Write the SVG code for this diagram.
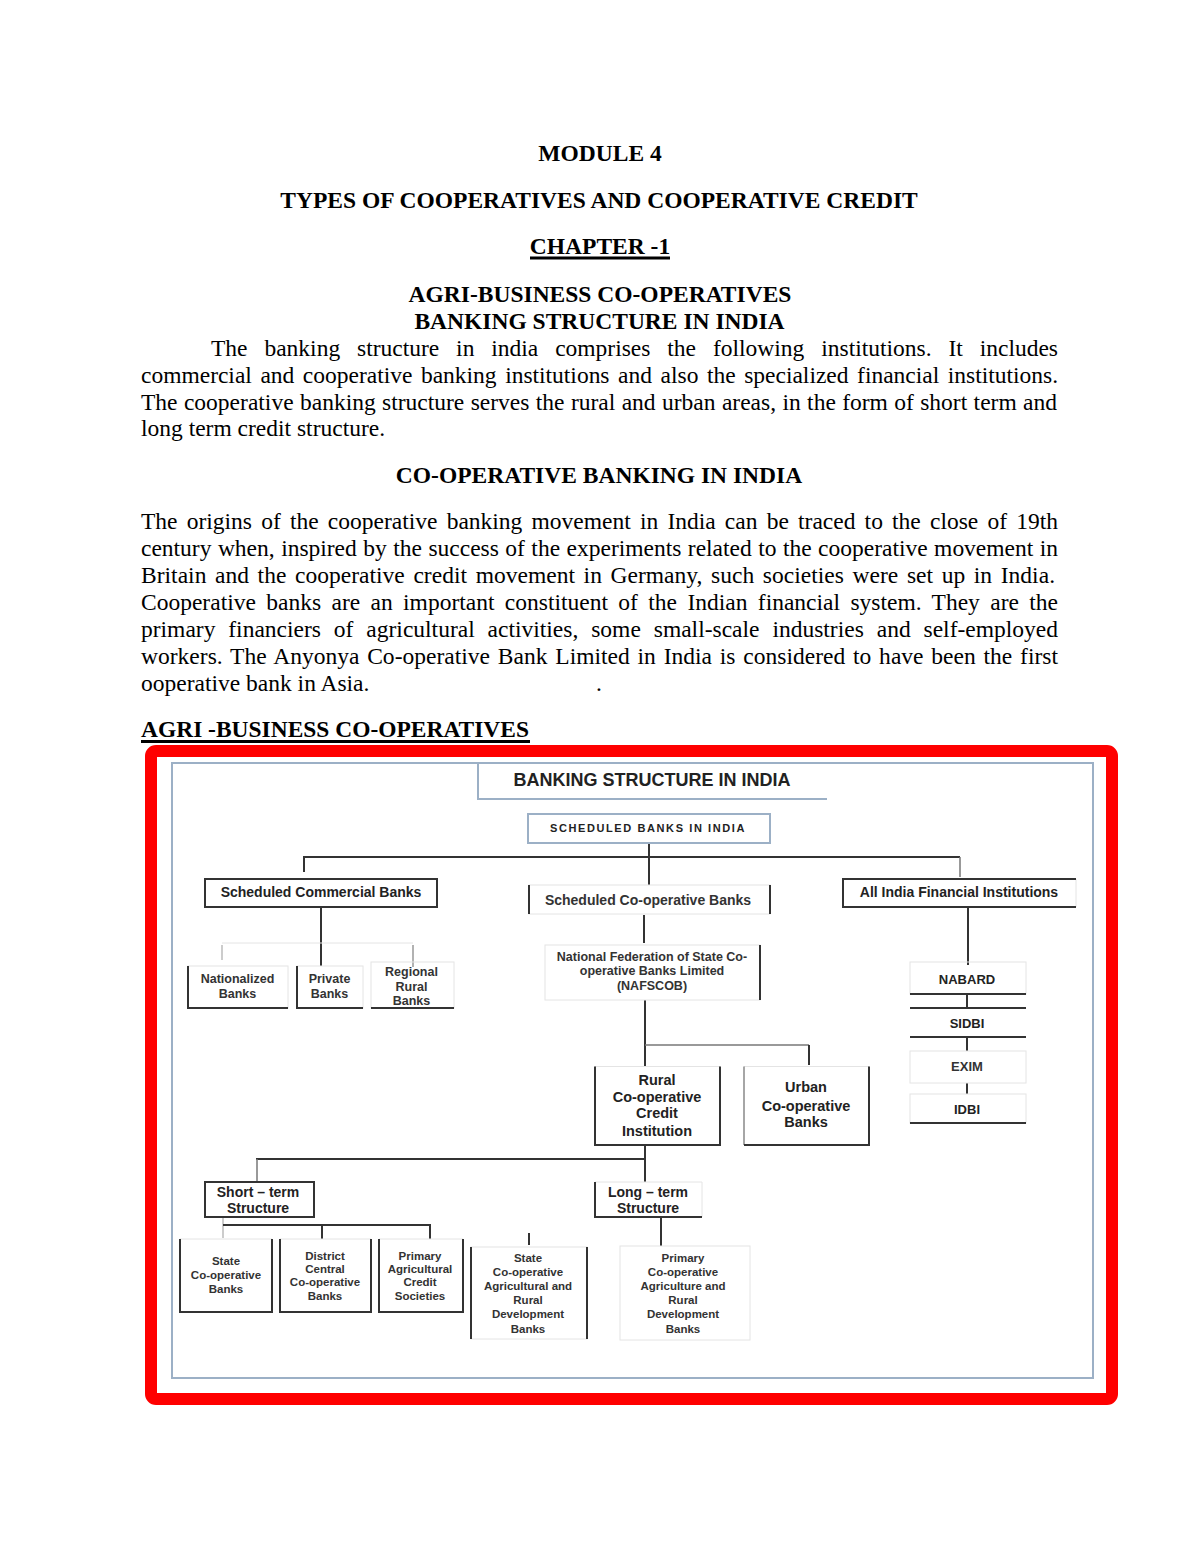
<svg xmlns="http://www.w3.org/2000/svg" width="1200" height="1553" viewBox="0 0 1200 1553">
<style>
.doc{font-family:"Liberation Serif","Times New Roman",serif;font-size:23.5px;fill:#000}
.hd{font-weight:bold;text-anchor:middle}
.lb{font-family:"Liberation Sans",Arial,sans-serif;font-weight:bold;fill:#222;text-anchor:middle}
.sm{fill:#333}
.f18{font-size:18px}
.f14{font-size:14px}
.f145{font-size:14.5px}
.f13{font-size:13px}
.f125{font-size:12.5px}
.f115{font-size:11.5px}
.f11{font-size:11px}
.ln{stroke:#333;stroke-width:2;fill:none}
.lt{stroke:#777;stroke-width:1.5;fill:none}
.fa{stroke:#e4e4e4;stroke-width:1;fill:none}
.bg{stroke:#9cb0c6;stroke-width:2;fill:none}
.ul{fill:#000}
</style>
<rect width="1200" height="1553" fill="#fff"/>

<g id="document-text" class="doc">
  <text class="hd" x="600" y="160.5">MODULE 4</text>
  <text class="hd" x="599" y="207.5">TYPES OF COOPERATIVES AND COOPERATIVE CREDIT</text>
  <text class="hd" x="600" y="254">CHAPTER -1</text>
  <rect class="ul" x="530" y="256.5" width="140" height="3"/>
  <text class="hd" x="600" y="301.5">AGRI-BUSINESS CO-OPERATIVES</text>
  <text class="hd" x="599.5" y="328.5">BANKING STRUCTURE IN INDIA</text>
  <text x="211" y="355.5" word-spacing="11" textLength="847" lengthAdjust="spacing">The banking structure in india comprises the following institutions. It includes</text>
  <text x="141" y="382.5" word-spacing="2.7" textLength="917" lengthAdjust="spacing">commercial and cooperative banking institutions and also the specialized financial institutions.</text>
  <text x="141" y="409.5" word-spacing="0.5" textLength="916" lengthAdjust="spacing">The cooperative banking structure serves the rural and urban areas, in the form of short term and</text>
  <text x="141" y="436">long term credit structure.</text>
  <text class="hd" x="599" y="482.5">CO-OPERATIVE BANKING IN INDIA</text>
  <text x="141" y="529" word-spacing="3.3" textLength="917" lengthAdjust="spacing">The origins of the cooperative banking movement in India can be traced to the close of 19th</text>
  <text x="141" y="556" word-spacing="0.6" textLength="917" lengthAdjust="spacing">century when, inspired by the success of the experiments related to the cooperative movement in</text>
  <text x="141" y="583" word-spacing="2.7" textLength="914" lengthAdjust="spacing">Britain and the cooperative credit movement in Germany, such societies were set up in India.</text>
  <text x="141" y="610" word-spacing="4.5" textLength="917" lengthAdjust="spacing">Cooperative banks are an important constituent of the Indian financial system. They are the</text>
  <text x="141" y="637" word-spacing="7" textLength="917" lengthAdjust="spacing">primary financiers of agricultural activities, some small-scale industries and self-employed</text>
  <text x="141" y="664" word-spacing="1.9" textLength="917" lengthAdjust="spacing">workers. The Anyonya Co-operative Bank Limited in India is considered to have been the first</text>
  <text x="141" y="691">ooperative bank in Asia.</text>
  <text x="596" y="691">.</text>
  <text x="141" y="737" font-weight="bold" textLength="388" lengthAdjust="spacingAndGlyphs">AGRI -BUSINESS CO-OPERATIVES</text>
  <rect class="ul" x="141" y="740" width="389" height="3"/>
</g>

<g id="frame">
  <rect x="151" y="751" width="961" height="648" rx="5" fill="none" stroke="#ff0000" stroke-width="12"/>
  <rect x="172" y="763" width="921" height="615" class="bg"/>
</g>

<g id="connectors">
  <line class="ln" x1="649" y1="843" x2="649" y2="885"/>
  <line class="ln" x1="304" y1="857" x2="960" y2="857"/>
  <line class="ln" x1="304" y1="856" x2="304" y2="872"/>
  <line class="lt" x1="960" y1="857" x2="960" y2="877"/>
  <line class="ln" x1="321" y1="907" x2="321" y2="966"/>
  <line class="fa" x1="222" y1="943" x2="413" y2="943"/>
  <line stroke="#bbb" stroke-width="1.5" x1="222" y1="945" x2="222" y2="960"/>
  <line stroke="#999" stroke-width="1.5" x1="413" y1="945" x2="413" y2="967"/>
  <line class="ln" x1="644" y1="915" x2="644" y2="943"/>
  <line class="ln" x1="645" y1="1000" x2="645" y2="1066"/>
  <line class="lt" x1="645" y1="1045" x2="809" y2="1045"/>
  <line class="ln" x1="809" y1="1045" x2="809" y2="1065"/>
  <line class="ln" x1="645" y1="1145" x2="645" y2="1182"/>
  <line class="ln" x1="256" y1="1159" x2="645" y2="1159"/>
  <line class="lt" x1="257" y1="1159" x2="257" y2="1182"/>
  <line stroke="#bbb" stroke-width="1.5" x1="223" y1="1217" x2="223" y2="1238"/>
  <line class="ln" x1="223" y1="1225" x2="430" y2="1225"/>
  <line class="ln" x1="322" y1="1225" x2="322" y2="1239"/>
  <line class="ln" x1="430" y1="1224" x2="430" y2="1239"/>
  <line class="ln" x1="661" y1="1217" x2="661" y2="1246"/>
  <line class="ln" x1="529" y1="1233" x2="529" y2="1245"/>
  <line class="ln" x1="968" y1="907" x2="968" y2="965"/>
  <line class="ln" x1="967" y1="994" x2="967" y2="1008"/>
  <line class="ln" x1="967" y1="1037" x2="967" y2="1051"/>
  <line class="ln" x1="967" y1="1083" x2="967" y2="1094"/>
</g>

<g id="node-title">
  <line class="bg" x1="478" y1="763" x2="478" y2="799"/>
  <line class="bg" x1="477" y1="799" x2="827" y2="799"/>
  <text class="lb f18" x="652" y="786">BANKING STRUCTURE IN INDIA</text>
</g>

<g id="node-scheduled-banks">
  <rect class="bg" x="528" y="814" width="242" height="29"/>
  <text class="lb f11" x="648" y="832" letter-spacing="1.6">SCHEDULED BANKS IN INDIA</text>
</g>

<g id="node-commercial">
  <rect class="ln" x="205" y="879" width="232" height="28"/>
  <text class="lb f14" x="321" y="897">Scheduled Commercial Banks</text>
</g>

<g id="node-cooperative">
  <rect class="fa" x="529" y="885" width="241" height="29"/>
  <line class="ln" x1="529" y1="885" x2="529" y2="914"/>
  <line class="ln" x1="770" y1="885" x2="770" y2="914"/>
  <text class="lb f14 sm" x="648" y="905">Scheduled Co-operative Banks</text>
</g>

<g id="node-aifi">
  <line class="fa" x1="1076" y1="879" x2="1076" y2="907"/>
  <polyline class="ln" points="1076,879 843,879 843,907 1076,907"/>
  <text class="lb f14" x="959" y="897">All India Financial Institutions</text>
</g>

<g id="node-nationalized">
  <rect class="fa" x="188" y="966" width="100" height="42"/>
  <polyline class="ln" points="188,966 188,1008 288,1008"/>
  <text class="lb f125 sm" x="237.5" y="983">Nationalized</text>
  <text class="lb f125 sm" x="237.5" y="998">Banks</text>
</g>

<g id="node-private">
  <rect class="fa" x="297" y="966" width="66" height="42"/>
  <polyline class="ln" points="297,966 297,1008 363,1008"/>
  <text class="lb f125 sm" x="329.5" y="983">Private</text>
  <text class="lb f125 sm" x="329.5" y="998">Banks</text>
</g>

<g id="node-regional">
  <rect class="fa" x="371" y="962" width="83" height="46"/>
  <line class="ln" x1="371" y1="1008" x2="454" y2="1008"/>
  <text class="lb f125 sm" x="411.5" y="976">Regional</text>
  <text class="lb f125 sm" x="411.5" y="990.5">Rural</text>
  <text class="lb f125 sm" x="411.5" y="1005">Banks</text>
</g>

<g id="node-nafscob">
  <rect class="fa" x="545" y="945" width="215" height="55"/>
  <line class="ln" x1="760" y1="945" x2="760" y2="1000"/>
  <text class="lb f125 sm" x="652" y="960.5">National Federation of State Co-</text>
  <text class="lb f125 sm" x="652" y="975">operative Banks Limited</text>
  <text class="lb f125 sm" x="652" y="990">(NAFSCOB)</text>
</g>

<g id="node-nabard">
  <rect class="fa" x="910" y="962" width="116" height="32"/>
  <line class="ln" x1="910" y1="994" x2="1026" y2="994"/>
  <text class="lb f13" x="967" y="983.5">NABARD</text>
</g>

<g id="node-sidbi">
  <line class="ln" x1="910" y1="1008" x2="1026" y2="1008"/>
  <line class="ln" x1="910" y1="1037" x2="1026" y2="1037"/>
  <text class="lb f13" x="967" y="1027.5">SIDBI</text>
</g>

<g id="node-exim">
  <rect class="fa" x="910" y="1051" width="116" height="32"/>
  <text class="lb f13 sm" x="967" y="1071">EXIM</text>
</g>

<g id="node-idbi">
  <rect class="fa" x="910" y="1094" width="116" height="29"/>
  <line class="ln" x1="910" y1="1123" x2="1026" y2="1123"/>
  <text class="lb f13" x="967" y="1113.5">IDBI</text>
</g>

<g id="node-rural">
  <line class="fa" x1="595" y1="1066.5" x2="720" y2="1066.5"/>
  <polyline class="ln" points="595,1066.5 595,1145 720,1145 720,1066.5"/>
  <text class="lb f145" x="657" y="1084.5">Rural</text>
  <text class="lb f145" x="657" y="1101.5">Co-operative</text>
  <text class="lb f145" x="657" y="1117.5">Credit</text>
  <text class="lb f145" x="657" y="1135.5">Institution</text>
</g>

<g id="node-urban">
  <line class="fa" x1="744" y1="1066.5" x2="869" y2="1066.5"/>
  <line stroke="#888" stroke-width="1.5" x1="744" y1="1066.5" x2="744" y2="1145"/>
  <polyline class="ln" points="744,1145 869,1145 869,1066.5"/>
  <text class="lb f145" x="806" y="1092">Urban</text>
  <text class="lb f145" x="806" y="1110.5">Co-operative</text>
  <text class="lb f145" x="806" y="1127">Banks</text>
</g>

<g id="node-short-term">
  <rect class="ln" x="205" y="1182" width="109" height="35"/>
  <text class="lb f14" x="258" y="1196.5">Short – term</text>
  <text class="lb f14" x="258" y="1212.5">Structure</text>
</g>

<g id="node-long-term">
  <polyline class="fa" points="595,1182 702,1182 702,1217"/>
  <polyline class="ln" points="595,1182 595,1217 702,1217"/>
  <text class="lb f14" x="648" y="1196.5">Long – term</text>
  <text class="lb f14" x="648" y="1212.5">Structure</text>
</g>

<g id="node-state-coop-banks">
  <line class="fa" x1="180" y1="1239" x2="272" y2="1239"/>
  <polyline class="ln" points="180,1239 180,1312 272,1312 272,1239"/>
  <text class="lb f115 sm" x="226" y="1265">State</text>
  <text class="lb f115 sm" x="226" y="1279">Co-operative</text>
  <text class="lb f115 sm" x="226" y="1293">Banks</text>
</g>

<g id="node-district-central">
  <line class="fa" x1="280" y1="1239" x2="371" y2="1239"/>
  <polyline class="ln" points="280,1239 280,1312 371,1312 371,1239"/>
  <text class="lb f115 sm" x="325" y="1259.5">District</text>
  <text class="lb f115 sm" x="325" y="1272.5">Central</text>
  <text class="lb f115 sm" x="325" y="1286">Co-operative</text>
  <text class="lb f115 sm" x="325" y="1299.5">Banks</text>
</g>

<g id="node-primary-agri-credit">
  <line class="fa" x1="379" y1="1239" x2="463" y2="1239"/>
  <polyline class="ln" points="379,1239 379,1312 463,1312 463,1239"/>
  <text class="lb f115 sm" x="420" y="1259.5">Primary</text>
  <text class="lb f115 sm" x="420" y="1272.5">Agricultural</text>
  <text class="lb f115 sm" x="420" y="1286">Credit</text>
  <text class="lb f115 sm" x="420" y="1299.5">Societies</text>
</g>

<g id="node-state-card">
  <rect class="fa" x="471" y="1247" width="116" height="92"/>
  <line class="ln" x1="471" y1="1247" x2="471" y2="1339"/>
  <line class="ln" x1="587" y1="1247" x2="587" y2="1339"/>
  <text class="lb f115 sm" x="528" y="1261.5">State</text>
  <text class="lb f115 sm" x="528" y="1275.7">Co-operative</text>
  <text class="lb f115 sm" x="528" y="1290">Agricultural and</text>
  <text class="lb f115 sm" x="528" y="1304">Rural</text>
  <text class="lb f115 sm" x="528" y="1318.3">Development</text>
  <text class="lb f115 sm" x="528" y="1332.5">Banks</text>
</g>

<g id="node-primary-card">
  <rect class="fa" x="620" y="1246" width="130" height="94"/>
  <text class="lb f115 sm" x="683" y="1261.5">Primary</text>
  <text class="lb f115 sm" x="683" y="1275.7">Co-operative</text>
  <text class="lb f115 sm" x="683" y="1290">Agriculture and</text>
  <text class="lb f115 sm" x="683" y="1304">Rural</text>
  <text class="lb f115 sm" x="683" y="1318.3">Development</text>
  <text class="lb f115 sm" x="683" y="1332.5">Banks</text>
</g>
</svg>
